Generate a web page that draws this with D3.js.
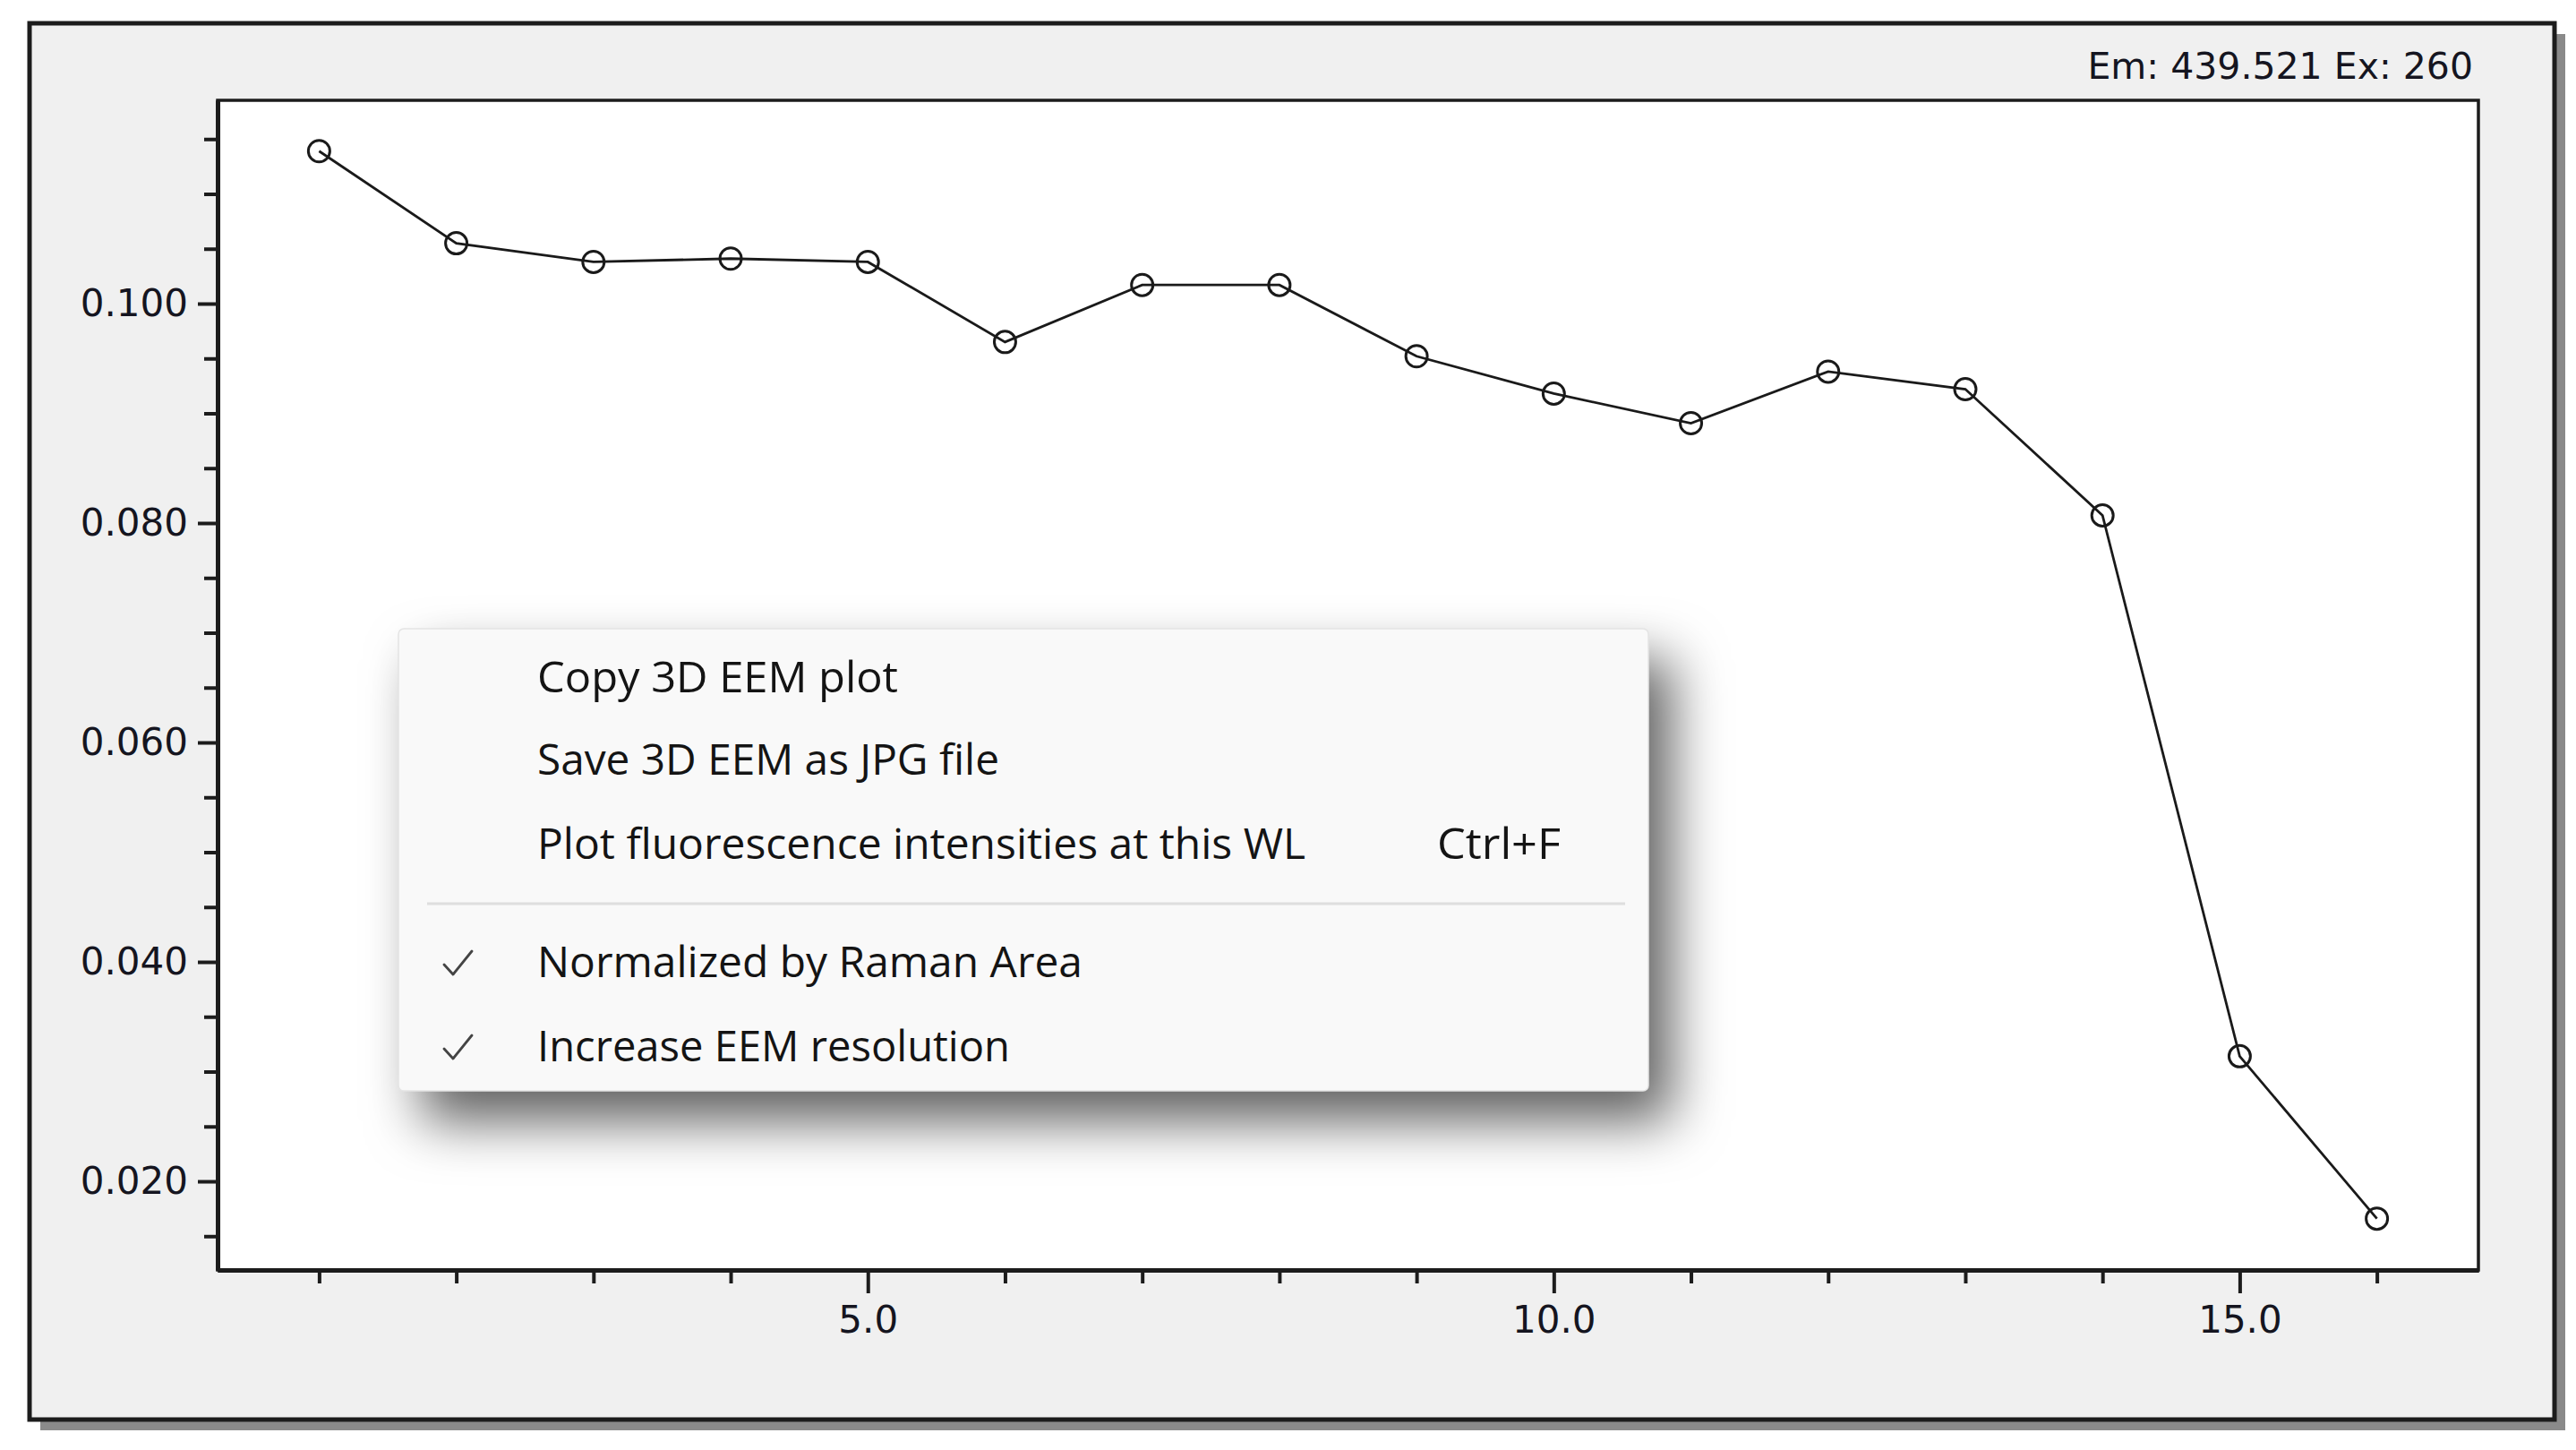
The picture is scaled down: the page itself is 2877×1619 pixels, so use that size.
<!DOCTYPE html>
<html>
<head>
<meta charset="utf-8">
<script src="https://cdn.jsdelivr.net/npm/d3@7"></script>
<style>
  html, body { margin: 0; padding: 0; background: #ffffff; }
  svg { display: block; }
</style>
</head>
<body>
<svg id="chart" width="2877" height="1619"></svg>
<script>
// ---------- data ----------
const xValues = [1, 2, 3, 4, 5, 6, 7, 8, 9, 10, 11, 12, 13, 14, 15, 16];
const yValues = [0.1139, 0.1055, 0.1038, 0.1041, 0.1038, 0.0965, 0.1017, 0.1017,
                 0.0952, 0.0918, 0.0891, 0.0938, 0.0922, 0.0807, 0.0314, 0.0166];
const xTicks = [1, 2, 3, 4, 5, 6, 7, 8, 9, 10, 11, 12, 13, 14, 15, 16];
const xMajorTicks = [5, 10, 15];
const yMajorTicks = [0.02, 0.04, 0.06, 0.08, 0.10];
const yMinorTicks = [0.015, 0.025, 0.03, 0.035, 0.045, 0.05, 0.055, 0.065, 0.07, 0.075,
                     0.085, 0.09, 0.095, 0.105, 0.11, 0.115];
const headerText = "Em: 439.521 Ex: 260";
const menuItems = [
  { label: "Copy 3D EEM plot", shortcut: "", checked: false },
  { label: "Save 3D EEM as JPG file", shortcut: "", checked: false },
  { label: "Plot fluorescence intensities at this WL", shortcut: "Ctrl+F", checked: false },
  { label: "Normalized by Raman Area", shortcut: "", checked: true },
  { label: "Increase EEM resolution", shortcut: "", checked: true }
];

// ---------- layout ----------
const svg = d3.select("#chart");
const frame = { x: 33, y: 26, w: 2820, h: 1559 };
const plot = { left: 243, top: 112, right: 2768, bottom: 1418 };
const axisFont = "'DejaVu Sans', Verdana, sans-serif";
const menuFont = "'Open Sans', 'Noto Sans', sans-serif";

const defs = svg.append("defs");
const fs = defs.append("filter").attr("id", "menuShadow")
  .attr("x", "-15%").attr("y", "-20%").attr("width", "140%").attr("height", "160%");
fs.append("feDropShadow").attr("dx", 26).attr("dy", 34).attr("stdDeviation", 30)
  .attr("flood-color", "#000").attr("flood-opacity", 0.62);

// outer window frame with shadow
svg.append("rect").attr("x", frame.x + 12).attr("y", frame.y + 12)
  .attr("width", frame.w).attr("height", frame.h).attr("fill", "#8a8a8a");
svg.append("rect").attr("x", frame.x).attr("y", frame.y)
  .attr("width", frame.w).attr("height", frame.h)
  .attr("fill", "#f0f0f0").attr("stroke", "#1c1c1c").attr("stroke-width", 5);

// header text
svg.append("text").attr("x", 2762).attr("y", 88)
  .attr("text-anchor", "end").attr("font-family", axisFont).attr("font-size", 41)
  .attr("fill", "#151520").text(headerText);

// scales
const x = d3.scaleLinear().domain([0.26, 16.74]).range([plot.left, plot.right]);
const y = d3.scaleLinear().domain([0.01192, 0.11853]).range([plot.bottom, plot.top]);

// plot area
svg.append("rect").attr("x", plot.left).attr("y", plot.top)
  .attr("width", plot.right - plot.left).attr("height", plot.bottom - plot.top)
  .attr("fill", "#ffffff").attr("stroke", "#1c1c1c").attr("stroke-width", 3.5);

// y axis
const yAxisMinor = d3.axisLeft(y).tickValues(yMinorTicks).tickSize(15).tickSizeOuter(0).tickFormat("");
const yAxisMajor = d3.axisLeft(y).tickValues(yMajorTicks).tickSize(22).tickSizeOuter(0).tickPadding(11)
  .tickFormat(d3.format(".3f"));
[yAxisMinor, yAxisMajor].forEach(ax => {
  const g = svg.append("g").attr("transform", `translate(${plot.left},0)`).call(ax);
  g.select(".domain").attr("stroke", "#1c1c1c").attr("stroke-width", 5);
  g.selectAll(".tick line").attr("stroke", "#1c1c1c").attr("stroke-width", 4);
  g.selectAll(".tick text").attr("font-family", axisFont).attr("font-size", 42)
    .attr("fill", "#151520");
});

// x axis
const xAxisMinor = d3.axisBottom(x).tickValues(xTicks.filter(t => !xMajorTicks.includes(t)))
  .tickSize(15).tickSizeOuter(0).tickFormat("");
const xAxisMajor = d3.axisBottom(x).tickValues(xMajorTicks).tickSize(26).tickSizeOuter(0).tickPadding(14)
  .tickFormat(d3.format(".1f"));
[xAxisMinor, xAxisMajor].forEach(ax => {
  const g = svg.append("g").attr("transform", `translate(0,${plot.bottom})`).call(ax);
  g.select(".domain").attr("stroke", "#1c1c1c").attr("stroke-width", 5);
  g.selectAll(".tick line").attr("stroke", "#1c1c1c").attr("stroke-width", 4);
  g.selectAll(".tick text").attr("font-family", axisFont).attr("font-size", 42)
    .attr("fill", "#151520");
});

// series
const pts = xValues.map((v, i) => [v, yValues[i]]);
svg.append("path").datum(pts)
  .attr("d", d3.line().x(d => x(d[0])).y(d => y(d[1])))
  .attr("fill", "none").attr("stroke", "#1a1a1a").attr("stroke-width", 2.8);
svg.append("g").selectAll("circle").data(pts).join("circle")
  .attr("cx", d => x(d[0])).attr("cy", d => y(d[1])).attr("r", 12)
  .attr("fill", "none").attr("stroke", "#1a1a1a").attr("stroke-width", 3);

// context menu overlay
const menu = { x: 445, y: 702, w: 1396, h: 516 };
const mg = svg.append("g");
mg.append("rect").attr("x", menu.x).attr("y", menu.y).attr("width", menu.w).attr("height", menu.h)
  .attr("rx", 6).attr("fill", "#f9f9f9").attr("filter", "url(#menuShadow)");
mg.append("rect").attr("x", menu.x).attr("y", menu.y).attr("width", menu.w).attr("height", menu.h)
  .attr("rx", 6).attr("fill", "#f9f9f9").attr("stroke", "#e4e4e4").attr("stroke-width", 1.5);

const baselines = [773, 865, 959, 1091, 1185];
const labelWidths = [403, 516, 858, 609, 528];
menuItems.forEach((m, i) => {
  mg.append("text").attr("x", 600).attr("y", baselines[i])
    .attr("font-family", menuFont).attr("font-size", 48).attr("fill", "#141414")
    .attr("textLength", labelWidths[i]).attr("lengthAdjust", "spacingAndGlyphs")
    .text(m.label);
  if (m.shortcut) {
    mg.append("text").attr("x", 1605).attr("y", baselines[i])
      .attr("font-family", menuFont).attr("font-size", 48).attr("fill", "#141414")
      .attr("textLength", 138).attr("lengthAdjust", "spacingAndGlyphs")
      .text(m.shortcut);
  }
  if (m.checked) {
    const by = baselines[i];
    mg.append("path")
      .attr("d", `M${496},${by - 14} L${506},${by - 3} L${527},${by - 29}`)
      .attr("fill", "none").attr("stroke", "#444").attr("stroke-width", 2.8)
      .attr("stroke-linecap", "round").attr("stroke-linejoin", "round");
  }
});
mg.append("line").attr("x1", 477).attr("x2", 1815).attr("y1", 1009).attr("y2", 1009)
  .attr("stroke", "#dedede").attr("stroke-width", 3);
</script>
</body>
</html>
